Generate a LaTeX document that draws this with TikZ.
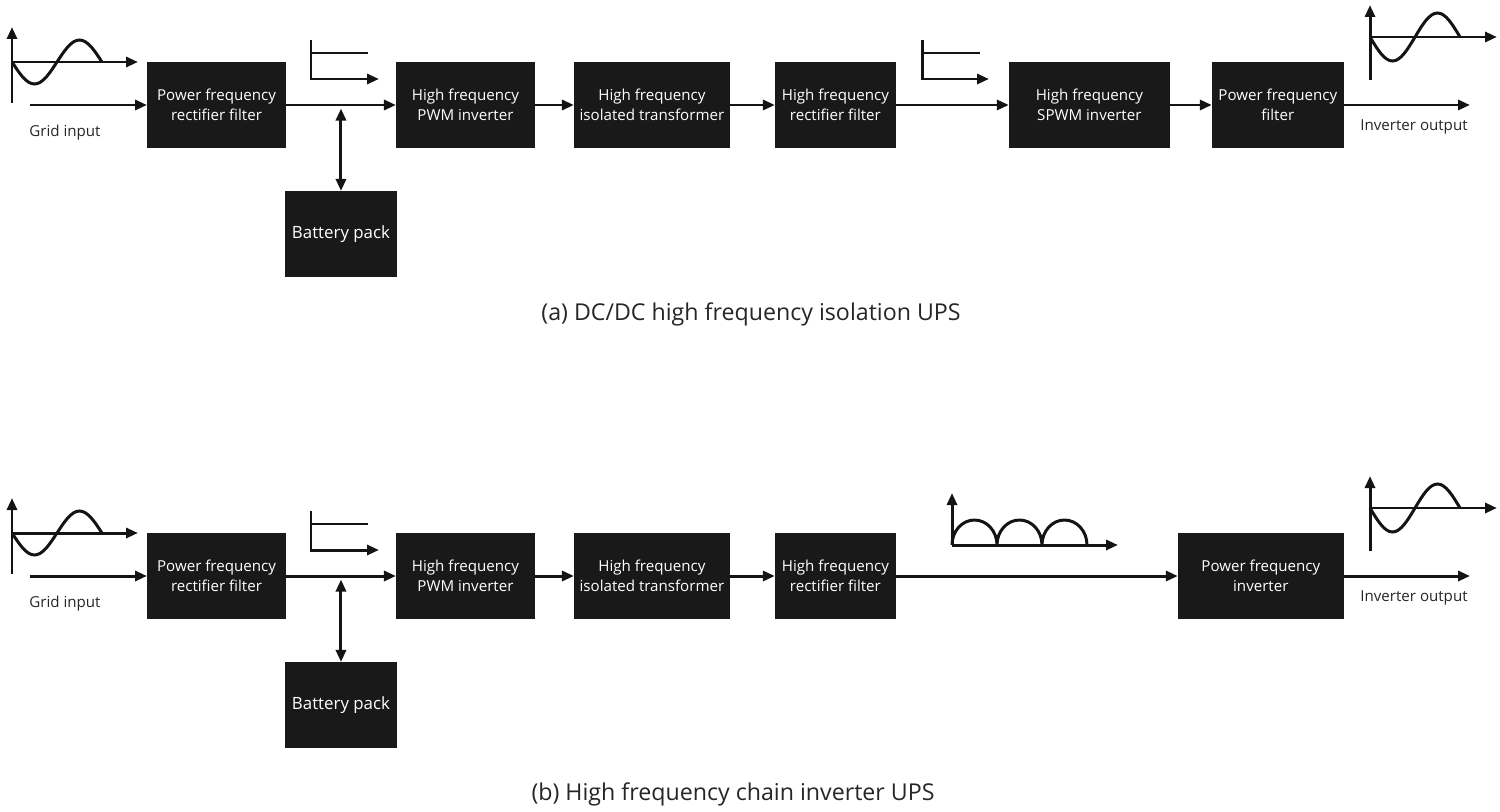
\documentclass[tikz,border=0pt]{standalone}
\usepackage{fontspec}
\setmainfont{Open Sans}
\usetikzlibrary{positioning,arrows.meta,calc}

\tikzset{
  >={Triangle[length=0.24cm,width=0.2cm]},
  block/.style={fill=black!90, text=white, minimum height=1.72cm, inner xsep=0pt,
    outer sep=0pt, align=center, font=\fontsize{8.6}{11.4}\selectfont},
  wave/.style={line width=1.7pt, draw=black!92},
  flow/.style={wave, ->},
  lbl/.style={font=\fontsize{8.6}{11}\selectfont, text=black!85},
  caption/.style={font=\fontsize{13.2}{15}\selectfont, text=black!85},
}

\begin{document}
\begin{tikzpicture}[x=0.02cm, y=-0.02cm]
  \useasboundingbox (0,0) rectangle (1500,811);

  % (a) DC/DC high frequency isolation UPS
  \node[block, minimum width=2.78cm] (rect1a) at (216.5,105) {Power frequency\\rectifier filter};
  \node[block, minimum width=2.78cm, right=2.2cm of rect1a] (pwma) {High frequency\\PWM inverter};
  \node[block, minimum width=3.12cm, right=0.78cm of pwma] (transa) {High frequency\\isolated transformer};
  \node[block, minimum width=2.42cm, right=0.9cm of transa] (hfrecta) {High frequency\\rectifier filter};
  \node[block, minimum width=3.22cm, right=2.26cm of hfrecta] (spwma) {High frequency\\SPWM inverter};
  \node[block, minimum width=2.64cm, right=0.84cm of spwma] (pfilta) {Power frequency\\filter};
  \coordinate (ja) at ($(rect1a.east)!0.5!(pwma.west)$);
  \node[block, minimum width=2.24cm, below=1.72cm of ja, font=\fontsize{9.6}{12}\selectfont] (batta) {Battery pack};
  \coordinate (gina) at (30,105);
  \coordinate (outa) at (1470,105);
  \node[lbl] (gridlbla) at (65,133) {Grid input};
  \node[lbl] (outlbla) at (1414,127) {Inverter output};

  \draw[flow] (gina) -- (rect1a.west);
  \draw[flow] (rect1a) -- (pwma);
  \draw[flow] (pwma) -- (transa);
  \draw[flow] (transa) -- (hfrecta);
  \draw[flow] (hfrecta) -- (spwma);
  \draw[flow] (spwma) -- (pfilta);
  \draw[flow] (pfilta.east) -- (outa);
  \draw[flow, <->] ([yshift=-2pt]ja) -- (batta);

  % waveforms
  \draw[wave, ->] (12,103) -- (12,27);
  \draw[wave, ->] (12,62) -- (138,62);
  \draw[wave] (12,62) sin (34.5,84) cos (57,62) sin (79.5,40) cos (102,62);
  \draw[wave, ->] (311,40) -- (311,79) -- (379,79);
  \draw[wave] (311,53) -- (368,53);
  \draw[wave, ->] (922,40) -- (922,79) -- (989,79);
  \draw[wave] (922,53) -- (980,53);
  \draw[wave, ->] (1370,80) -- (1370,5);
  \draw[wave, ->] (1370,37) -- (1497,37);
  \draw[wave] (1370,37) sin (1392.5,61) cos (1415,37) sin (1437.5,13) cos (1460,37);

  \node[caption] (capa) at (751,314) {(a) DC/DC high frequency isolation UPS};

  % (b) High frequency chain inverter UPS
  \node[block, minimum width=2.78cm] (rect1b) at (216.5,576) {Power frequency\\rectifier filter};
  \node[block, minimum width=2.78cm, right=2.2cm of rect1b] (pwmb) {High frequency\\PWM inverter};
  \node[block, minimum width=3.12cm, right=0.78cm of pwmb] (transb) {High frequency\\isolated transformer};
  \node[block, minimum width=2.42cm, right=0.9cm of transb] (hfrectb) {High frequency\\rectifier filter};
  \node[block, minimum width=3.32cm, right=5.64cm of hfrectb] (pinvb) {Power frequency\\inverter};
  \coordinate (jb) at ($(rect1b.east)!0.5!(pwmb.west)$);
  \node[block, minimum width=2.24cm, below=1.72cm of jb, font=\fontsize{9.6}{12}\selectfont] (battb) {Battery pack};
  \coordinate (ginb) at (30,576);
  \coordinate (outb) at (1470,576);
  \node[lbl] (gridlblb) at (65,604) {Grid input};
  \node[lbl] (outlblb) at (1414,598) {Inverter output};

  \draw[flow] (ginb) -- (rect1b.west);
  \draw[flow] (rect1b) -- (pwmb);
  \draw[flow] (pwmb) -- (transb);
  \draw[flow] (transb) -- (hfrectb);
  \draw[flow] (hfrectb) -- (pinvb);
  \draw[flow] (pinvb.east) -- (outb);
  \draw[flow, <->] ([yshift=-2pt]jb) -- (battb);

  % waveforms
  \draw[wave, ->] (12,574) -- (12,498);
  \draw[wave, ->] (12,533) -- (138,533);
  \draw[wave] (12,533) sin (34.5,555) cos (57,533) sin (79.5,511) cos (102,533);
  \draw[wave, ->] (311,511) -- (311,550) -- (379,550);
  \draw[wave] (311,524) -- (368,524);
  \draw[wave, ->] (952,545) -- (952,493);
  \draw[wave, ->] (952,545) -- (1118,545);
  \draw[wave] (952,545) arc[start angle=180, end angle=0, x radius=0.45cm, y radius=0.5cm]
    arc[start angle=180, end angle=0, x radius=0.45cm, y radius=0.5cm]
    arc[start angle=180, end angle=0, x radius=0.45cm, y radius=0.5cm];
  \draw[wave, ->] (1370,551) -- (1370,476);
  \draw[wave, ->] (1370,508) -- (1497,508);
  \draw[wave] (1370,508) sin (1392.5,532) cos (1415,508) sin (1437.5,484) cos (1460,508);

  \node[caption] (capb) at (733,794) {(b) High frequency chain inverter UPS};
\end{tikzpicture}
\end{document}
